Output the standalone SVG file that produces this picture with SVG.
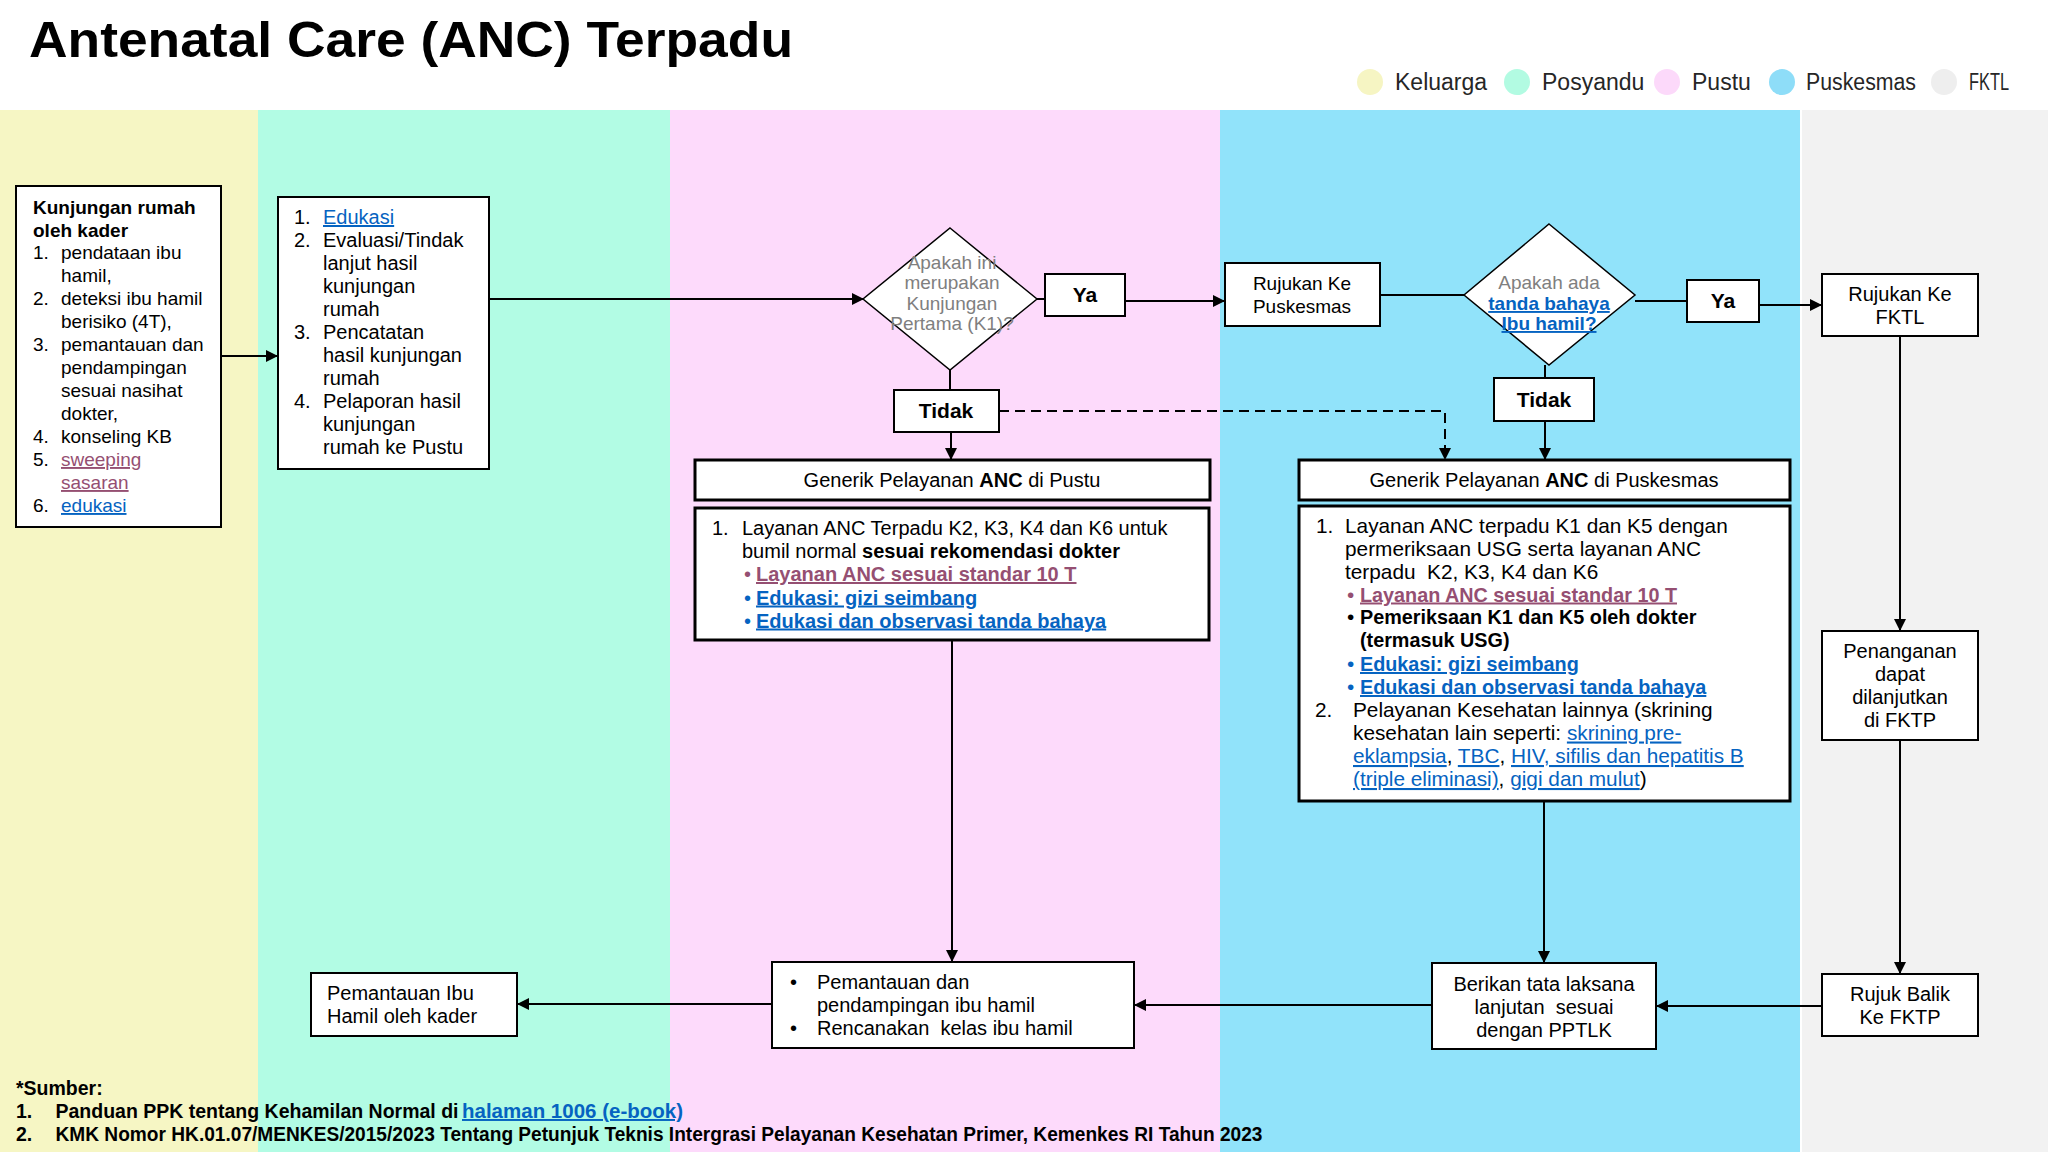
<svg xmlns="http://www.w3.org/2000/svg" width="2048" height="1152" viewBox="0 0 2048 1152">
<defs>
<style>
text{font-family:"Liberation Sans",Arial,sans-serif;fill:#000}
.b{font-weight:bold}
.c{text-anchor:middle}
.lk{fill:#0563C1;text-decoration:underline}
.lv{fill:#954F72;text-decoration:underline}
.gr{fill:#7F7F7F}
.box{fill:#fff;stroke:#000;stroke-width:2}
.hdr{fill:#fff;stroke:#000;stroke-width:3}
.ln{fill:none;stroke:#000;stroke-width:2}
.dash{stroke-dasharray:10 6}
.s19{font-size:19px}
.s20{font-size:20px}
.s21{font-size:20.8px}
.s21b{font-size:19.8px;font-weight:bold}
.yn{font-size:21px;font-weight:bold}
.lg{font-size:23px;fill:#262626}
.ft{font-size:19.5px;font-weight:bold}
</style>
<marker id="ah" markerUnits="userSpaceOnUse" markerWidth="12" markerHeight="12" refX="12" refY="6" orient="auto">
<path d="M0,0 L12,6 L0,12 z" fill="#000"/>
</marker>
</defs>

<g id="background">
<rect x="0" y="0" width="2048" height="1152" fill="#fff"/>
<rect x="0" y="110" width="258" height="1042" fill="#F6F6C4"/>
<rect x="258" y="110" width="412" height="1042" fill="#B2FCE4"/>
<rect x="670" y="110" width="550" height="1042" fill="#FDDAFB"/>
<rect x="1220" y="110" width="580" height="1042" fill="#91E3FA"/>
<rect x="1802" y="110" width="246" height="1042" fill="#F2F2F2"/>
</g>

<g id="title">
<text x="29" y="57" font-size="50" class="b" textLength="764" lengthAdjust="spacingAndGlyphs">Antenatal Care (ANC) Terpadu</text>
</g>

<g id="legend">
<circle cx="1370" cy="82" r="13" fill="#F6F5C3"/>
<text x="1395" y="90" class="lg">Keluarga</text>
<circle cx="1517" cy="82" r="13" fill="#B2FBE2"/>
<text x="1542" y="90" class="lg">Posyandu</text>
<circle cx="1667" cy="82" r="13" fill="#FCD9FA"/>
<text x="1692" y="90" class="lg">Pustu</text>
<circle cx="1782" cy="82" r="13" fill="#8EDDF8"/>
<text x="1806" y="90" class="lg" textLength="110" lengthAdjust="spacingAndGlyphs">Puskesmas</text>
<circle cx="1944" cy="82" r="13" fill="#EEEEEE"/>
<text x="1969" y="90" class="lg" textLength="40" lengthAdjust="spacingAndGlyphs">FKTL</text>
</g>

<g id="connectors">
<path class="ln" d="M221,356 H278" marker-end="url(#ah)"/>
<path class="ln" d="M489,299 H864" marker-end="url(#ah)"/>
<path class="ln" d="M1018,299 H1045"/>
<path class="ln" d="M1125,301 H1225" marker-end="url(#ah)"/>
<path class="ln" d="M1380,295 H1464"/>
<path class="ln" d="M1635,301 H1687"/>
<path class="ln" d="M1759,305 H1822" marker-end="url(#ah)"/>
<path class="ln" d="M950,370 V390"/>
<path class="ln" d="M951,432 V460" marker-end="url(#ah)"/>
<path class="ln dash" d="M999,411 H1445 V460" marker-end="url(#ah)"/>
<path class="ln" d="M1545,365 V378"/>
<path class="ln" d="M1545,421 V460" marker-end="url(#ah)"/>
<path class="ln" d="M952,640 V962" marker-end="url(#ah)"/>
<path class="ln" d="M1544,801 V963" marker-end="url(#ah)"/>
<path class="ln" d="M1900,336 V631" marker-end="url(#ah)"/>
<path class="ln" d="M1900,740 V974" marker-end="url(#ah)"/>
<path class="ln" d="M1822,1006 H1656" marker-end="url(#ah)"/>
<path class="ln" d="M1432,1005 H1134" marker-end="url(#ah)"/>
<path class="ln" d="M772,1004 H517" marker-end="url(#ah)"/>
</g>

<g id="kunjungan-rumah">
<rect class="box" x="16" y="186" width="205" height="341"/>
<text x="33" y="214" class="s19 b">Kunjungan rumah</text>
<text x="33" y="237" class="s19 b">oleh kader</text>
<text x="33" y="259" class="s19">1.</text><text x="61" y="259" class="s19">pendataan ibu</text>
<text x="61" y="282" class="s19">hamil,</text>
<text x="33" y="305" class="s19">2.</text><text x="61" y="305" class="s19">deteksi ibu hamil</text>
<text x="61" y="328" class="s19">berisiko (4T),</text>
<text x="33" y="351" class="s19">3.</text><text x="61" y="351" class="s19">pemantauan dan</text>
<text x="61" y="374" class="s19">pendampingan</text>
<text x="61" y="397" class="s19">sesuai nasihat</text>
<text x="61" y="420" class="s19">dokter,</text>
<text x="33" y="443" class="s19">4.</text><text x="61" y="443" class="s19">konseling KB</text>
<text x="33" y="466" class="s19">5.</text><text x="61" y="466" class="s19 lv">sweeping</text>
<text x="61" y="489" class="s19 lv">sasaran</text>
<text x="33" y="512" class="s19">6.</text><text x="61" y="512" class="s19 lk">edukasi</text>
</g>

<g id="posyandu-kegiatan">
<rect class="box" x="278" y="197" width="211" height="272"/>
<text x="294" y="224" class="s20">1.</text><text x="323" y="224" class="s20 lk">Edukasi</text>
<text x="294" y="247" class="s20">2.</text><text x="323" y="247" class="s20">Evaluasi/Tindak</text>
<text x="323" y="270" class="s20">lanjut hasil</text>
<text x="323" y="293" class="s20">kunjungan</text>
<text x="323" y="316" class="s20">rumah</text>
<text x="294" y="339" class="s20">3.</text><text x="323" y="339" class="s20">Pencatatan</text>
<text x="323" y="362" class="s20">hasil kunjungan</text>
<text x="323" y="385" class="s20">rumah</text>
<text x="294" y="408" class="s20">4.</text><text x="323" y="408" class="s20">Pelaporan hasil</text>
<text x="323" y="431" class="s20">kunjungan</text>
<text x="323" y="454" class="s20">rumah ke Pustu</text>
</g>

<g id="keputusan-k1">
<polygon points="950,228 1037,299 950,370 863,299" fill="#fff" stroke="#000" stroke-width="1.5"/>
<text x="952" y="269" class="s19 c gr">Apakah ini</text>
<text x="952" y="289" class="s19 c gr">merupakan</text>
<text x="952" y="310" class="s19 c gr">Kunjungan</text>
<text x="952" y="330" class="s19 c gr">Pertama (K1)?</text>
</g>

<g id="ya-1">
<rect class="box" x="1045" y="274" width="80" height="42"/>
<text x="1085" y="302" class="yn c">Ya</text>
</g>

<g id="tidak-1">
<rect class="box" x="894" y="390" width="105" height="42"/>
<text x="946" y="418" class="yn c">Tidak</text>
</g>

<g id="rujukan-puskesmas">
<rect class="box" x="1225" y="263" width="155" height="63"/>
<text x="1302" y="290" class="s19 c">Rujukan Ke</text>
<text x="1302" y="313" class="s19 c">Puskesmas</text>
</g>

<g id="keputusan-bahaya">
<polygon points="1549,224 1635,295 1549,365 1464,295" fill="#fff" stroke="#000" stroke-width="1.5"/>
<text x="1549" y="289" class="s19 c gr">Apakah ada</text>
<text x="1549" y="310" class="s19 c b lk">tanda bahaya</text>
<text x="1549" y="330" class="s19 c b lk">Ibu hamil?</text>
</g>

<g id="ya-2">
<rect class="box" x="1687" y="280" width="72" height="42"/>
<text x="1723" y="308" class="yn c">Ya</text>
</g>

<g id="tidak-2">
<rect class="box" x="1494" y="378" width="100" height="43"/>
<text x="1544" y="407" class="yn c">Tidak</text>
</g>

<g id="rujukan-fktl">
<rect class="box" x="1822" y="274" width="156" height="62"/>
<text x="1900" y="301" class="s20 c">Rujukan Ke</text>
<text x="1900" y="324" class="s20 c">FKTL</text>
</g>

<g id="generik-pustu">
<rect class="hdr" x="695" y="460" width="515" height="40"/>
<text x="952" y="487" class="s20 c">Generik Pelayanan <tspan class="b">ANC</tspan> di Pustu</text>
</g>

<g id="layanan-pustu">
<rect class="hdr" x="695" y="508" width="514" height="132"/>
<text x="712" y="535" class="s20">1.</text>
<text x="742" y="535" class="s20">Layanan ANC Terpadu K2, K3, K4 dan K6 untuk</text>
<text x="742" y="557.5" class="s20">bumil normal <tspan class="b">sesuai rekomendasi dokter</tspan></text>
<text x="744" y="581" class="s20" style="fill:#954F72">•</text>
<text x="756" y="581" class="s20 b lv">Layanan ANC sesuai standar 10 T</text>
<text x="744" y="604.5" class="s20" style="fill:#0563C1">•</text>
<text x="756" y="604.5" class="s20 b lk">Edukasi: gizi seimbang</text>
<text x="744" y="627.5" class="s20" style="fill:#0563C1">•</text>
<text x="756" y="627.5" class="s20 b lk">Edukasi dan observasi tanda bahaya</text>
</g>

<g id="generik-puskesmas">
<rect class="hdr" x="1299" y="460" width="491" height="40"/>
<text x="1544" y="487" class="s20 c">Generik Pelayanan <tspan class="b">ANC</tspan> di Puskesmas</text>
</g>

<g id="layanan-puskesmas">
<rect class="hdr" x="1299" y="506" width="491" height="295"/>
<text x="1316" y="533" class="s21">1.</text>
<text x="1345" y="533" class="s21">Layanan ANC terpadu K1 dan K5 dengan</text>
<text x="1345" y="556" class="s21">permeriksaan USG serta layanan ANC</text>
<text x="1345" y="578.5" class="s21" xml:space="preserve">terpadu  K2, K3, K4 dan K6</text>
<text x="1347" y="601.5" class="s21" style="fill:#954F72">•</text>
<text x="1360" y="601.5" class="s21b lv">Layanan ANC sesuai standar 10 T</text>
<text x="1347" y="624" class="s21">•</text>
<text x="1360" y="624" class="s21b">Pemeriksaan K1 dan K5 oleh dokter</text>
<text x="1360" y="647" class="s21b">(termasuk USG)</text>
<text x="1347" y="671" class="s21" style="fill:#0563C1">•</text>
<text x="1360" y="671" class="s21b lk">Edukasi: gizi seimbang</text>
<text x="1347" y="694" class="s21" style="fill:#0563C1">•</text>
<text x="1360" y="694" class="s21b lk">Edukasi dan observasi tanda bahaya</text>
<text x="1315" y="717" class="s21">2.</text>
<text x="1353" y="717" class="s21">Pelayanan Kesehatan lainnya (skrining</text>
<text x="1353" y="739.5" class="s21">kesehatan lain seperti: <tspan class="lk">skrining pre-</tspan></text>
<text x="1353" y="763" class="s21"><tspan class="lk">eklampsia</tspan>, <tspan class="lk">TBC</tspan>, <tspan class="lk">HIV, sifilis dan hepatitis B</tspan></text>
<text x="1353" y="786" class="s21"><tspan class="lk">(triple eliminasi)</tspan>, <tspan class="lk">gigi dan mulut</tspan>)</text>
</g>

<g id="penanganan-fktp">
<rect class="box" x="1822" y="631" width="156" height="109"/>
<text x="1900" y="658" class="s20 c">Penanganan</text>
<text x="1900" y="681" class="s20 c">dapat</text>
<text x="1900" y="704" class="s20 c">dilanjutkan</text>
<text x="1900" y="727" class="s20 c">di FKTP</text>
</g>

<g id="rujuk-balik">
<rect class="box" x="1822" y="974" width="156" height="62"/>
<text x="1900" y="1001" class="s20 c">Rujuk Balik</text>
<text x="1900" y="1024" class="s20 c">Ke FKTP</text>
</g>

<g id="tata-laksana">
<rect class="box" x="1432" y="963" width="224" height="86"/>
<text x="1544" y="991" class="s20 c">Berikan tata laksana</text>
<text x="1544" y="1014" class="s20 c" xml:space="preserve">lanjutan  sesuai</text>
<text x="1544" y="1037" class="s20 c">dengan PPTLK</text>
</g>

<g id="pemantauan-pustu">
<rect class="box" x="772" y="962" width="362" height="86"/>
<text x="790" y="989" class="s20">•</text>
<text x="817" y="989" class="s20">Pemantauan dan</text>
<text x="817" y="1012" class="s20">pendampingan ibu hamil</text>
<text x="790" y="1035" class="s20">•</text>
<text x="817" y="1035" class="s20" xml:space="preserve">Rencanakan  kelas ibu hamil</text>
</g>

<g id="pemantauan-kader">
<rect class="box" x="311" y="973" width="206" height="63"/>
<text x="327" y="1000" class="s20">Pemantauan Ibu</text>
<text x="327" y="1023" class="s20">Hamil oleh kader</text>
</g>

<g id="sumber">
<text x="16" y="1095" class="ft">*Sumber:</text>
<text x="16" y="1118" class="ft">1.</text>
<text x="55.5" y="1118" class="ft" textLength="403" lengthAdjust="spacingAndGlyphs">Panduan PPK tentang Kehamilan Normal di</text>
<text x="462" y="1118" class="ft lk" textLength="221" lengthAdjust="spacingAndGlyphs">halaman 1006 (e-book)</text>
<text x="16" y="1141" class="ft">2.</text>
<text x="55.5" y="1141" class="ft" textLength="1207" lengthAdjust="spacingAndGlyphs">KMK Nomor HK.01.07/MENKES/2015/2023 Tentang Petunjuk Teknis Intergrasi Pelayanan Kesehatan Primer, Kemenkes RI Tahun 2023</text>
</g>
</svg>
